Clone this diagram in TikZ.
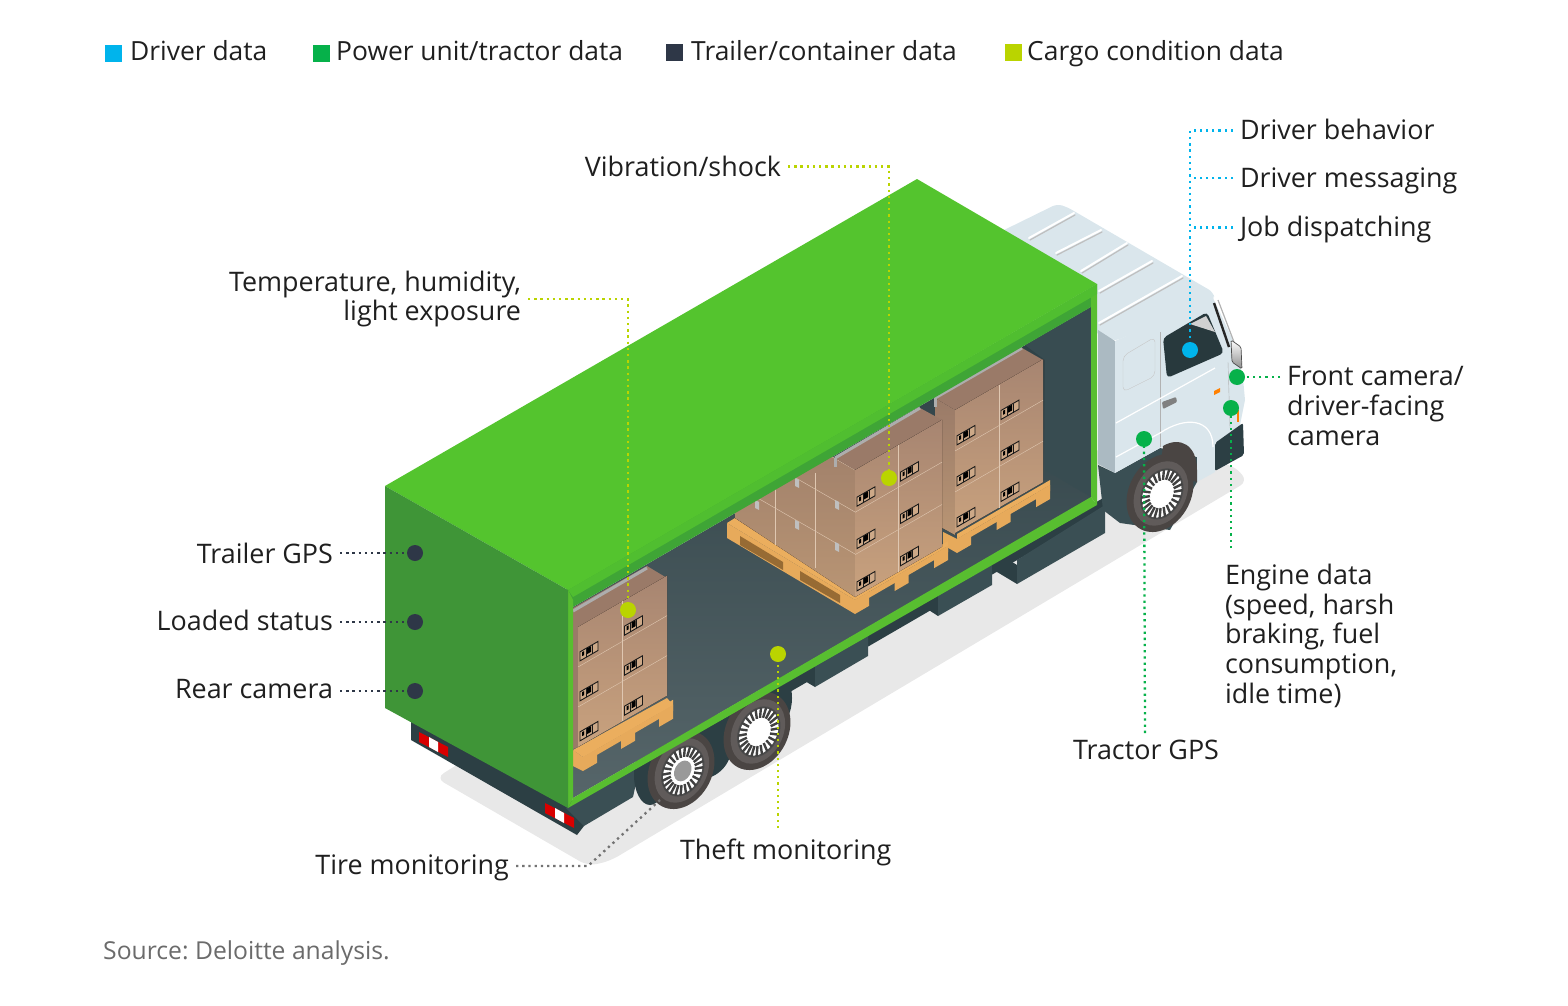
\documentclass[tikz,border=0pt]{standalone}
\usepackage{fontspec}
\setmainfont{Open Sans}
\usetikzlibrary{calc}

\definecolor{driverblue}{HTML}{00B4EC}
\definecolor{tractorgreen}{HTML}{06B14A}
\definecolor{trailernavy}{HTML}{2E3747}
\definecolor{cargolime}{HTML}{BAD400}
\definecolor{roofgreen}{HTML}{54C42E}
\definecolor{reargreen}{HTML}{3F9537}
\definecolor{bandgreen}{HTML}{3FA536}
\definecolor{railgreen}{HTML}{58BE30}
\definecolor{cabwhite}{HTML}{DAE6EC}
\definecolor{cabgrey}{HTML}{ABBAC2}
\definecolor{slate}{HTML}{2C3F44}
\definecolor{slatelight}{HTML}{3A4F54}
\definecolor{cartontop}{HTML}{A78571}
\definecolor{cartonbot}{HTML}{C9A27E}
\definecolor{palletlight}{HTML}{EBAE5E}
\definecolor{palletdark}{HTML}{C98F45}
\definecolor{tyregrey}{HTML}{4A4543}

% a printed handling mark on a carton
\newcommand{\cartonmark}[2]{
	\begin{scope}[shift={({#1},{#2})}]
		\draw[black!90,line width=.9pt,fill=cartonbot!92!white] (-9,9.7) -- (9,-.7) -- (9,-9.7) -- (-9,.7) -- cycle;
		\draw[black!90,line width=.8pt] (-3,6.2) -- (-3,-2.8) (3,2.8) -- (3,-6.2);
		\fill[black] (-2,3) -- (2,.7) -- (2,-5) -- (-2,-3) -- cycle;
		\fill[black] (-7,5) -- (-5,4) -- (-5,0) -- (-7,1) -- cycle;
	\end{scope}
}

% front of a cargo stack: corner x, corner y, width, height
\newcommand{\cartonfront}[4]{
	\fill[top color=cartontop,bottom color=cartonbot] (#1,#2) -- (#1,#2-#4) -- (#1+#3,#2-#4-.577*#3) -- (#1+#3,#2-.577*#3) -- cycle;
	\foreach \r in {1,2}
	\draw[cartonbot!60!white] (#1,#2-\r*#4/3) -- (#1+#3,#2-\r*#4/3-.577*#3);
	\draw[cartonbot!60!white] (#1+#3/2,#2-.288*#3) -- (#1+#3/2,#2-#4-.288*#3);
	\foreach \c in {0,1}{
		\foreach \r in {0,1,2}{
			\cartonmark{#1+11+\c*#3/2}{#2-.577*(11+\c*#3/2)-9.5-\r*#4/3}
		}
	}
}

% long side of a pallet: corner x, corner y, width
\newcommand{\palletfront}[3]{
	\fill[palletlight] (#1,#2-5) -- (#1+#3,#2-5-.58*#3) -- (#1+#3,#2-.58*#3) -- (#1,#2) -- cycle;
	\fill[palletlight!88!palletdark] (#1,#2) -- (#1+#3,#2-.58*#3) -- (#1+#3,#2+6-.58*#3) -- (#1,#2+6) -- cycle;
	\foreach \t in {0,.5,1}
	\fill[palletlight!88!palletdark] ({#1+\t*(#3-14)},{#2-.58*\t*(#3-14)}) -- ({#1+14+\t*(#3-14)},{#2-.58*(14+\t*(#3-14))}) -- ({#1+14+\t*(#3-14)},{#2+14-.58*(14+\t*(#3-14))}) -- ({#1+\t*(#3-14)},{#2+14-.58*\t*(#3-14)}) -- cycle;
}

% tyre with spoked rim: centre x, centre y, hub colour
\newcommand{\truckwheel}[3]{
	\begin{scope}[shift={(#1,#2)},rotate=-28]
		\fill[tyregrey] (0,0) ellipse [x radius=31pt,y radius=41pt];
		\fill[tyregrey!88!white] (1,0) ellipse [x radius=25pt,y radius=34pt];
		\fill[black!70] (2,0) ellipse [x radius=20pt,y radius=27pt];
		\fill[white] (2,0) ellipse [x radius=18pt,y radius=25pt];
		\foreach \a in {0,15,...,345}
		\draw[black!75,line width=2.4pt] ($(2,0)+(\a:11 and 15)$) -- ($(2,0)+(\a:19 and 26)$);
		\fill[#3] (2,0) ellipse [x radius=8pt,y radius=11pt];
	\end{scope}
}

\begin{document}
\begin{tikzpicture}[
		x=1pt,y=-1pt,
		every node/.style={font=\fontsize{26.9}{29.7}\selectfont\frenchspacing,text=black!88,inner sep=0pt},
		labeltext/.style={outer sep=7pt},
		evenline/.style={text height=21pt,text depth=3pt},
		keytext/.style={anchor=base west,font=\fontsize{26.4}{29.7}\selectfont},
		sensor/.style={circle,minimum size=16pt,inner sep=0pt,outer sep=0pt},
		leader/.style={line width=2.3pt,dash pattern=on 2.3pt off 3.9pt},
		swatch/.style={minimum size=17pt,inner sep=0pt},
	]

	\useasboundingbox (0,0) rectangle (1568,1006);

	% legend
	\node[swatch,fill=driverblue] (keyDriver) at (113.5,53.5) {};
	\node[swatch,fill=tractorgreen] (keyTractor) at (321,53.5) {};
	\node[swatch,fill=trailernavy] (keyTrailer) at (674,53) {};
	\node[swatch,fill=cargolime] (keyCargo) at (1013,52.5) {};
	\node[keytext] (txtDriver) at (130,61) {Driver data};
	\node[keytext] (txtTractor) at (336,61) {Power unit/tractor data};
	\node[keytext] (txtTrailer) at (691,60.5) {Trailer/container data};
	\node[keytext] (txtCargo) at (1027,60.5) {Cargo condition data};

	% ground shadow
	\fill[black!9,rounded corners=9pt] (436,778) -- (455,766) -- (1000,440) -- (1233,465) -- (1248,481) -- (610,861) -- (588,866) -- cycle;

	% chassis and boxes under the trailer
	\fill[slate] (640,767) -- (1105,497) -- (1105,509) -- (640,779) -- cycle;
	\fill[slate] (798,655) -- (815,665) -- (815,687) -- (798,677) -- cycle;
	\fill[slatelight] (815,665) -- (868,632) -- (868,656) -- (815,687) -- cycle;
	\fill[slate] (921,585) -- (938,595) -- (938,616) -- (921,605) -- cycle;
	\fill[slatelight] (938,595) -- (992,562) -- (992,585) -- (938,616) -- cycle;
	\fill[slate] (992,550) -- (1017,565) -- (1017,584) -- (992,569) -- cycle;
	\fill[slatelight] (1017,560) -- (1105,505) -- (1105,533) -- (1017,584) -- cycle;

	% rear bumper
	\fill[slate] (411,720) -- (411,740) -- (577,835) -- (584,826) -- (584,812) -- (560,790) -- cycle;
	\fill[slatelight] (584,826) -- (633,797) -- (640,765) -- (566,808) -- cycle;
	\foreach \x/\y in {419/732,545/803}{
		\fill[red!85!black] (\x,\y) -- (\x+29,\y+15) -- (\x+29,\y+25) -- (\x,\y+10) -- cycle;
		\fill[white] (\x+10,\y+5) -- (\x+19,\y+10) -- (\x+19,\y+20) -- (\x+10,\y+15) -- cycle;
	}

	% rear wheels
	\fill[slate] (776,698) ellipse [x radius=16pt,y radius=28pt];
	\fill[slate] (700,745) ellipse [x radius=32pt,y radius=34pt];
	\truckwheel{757}{731}{white}
	\fill[slate] (650,775) ellipse [x radius=16pt,y radius=30pt];
	\truckwheel{681}{770}{black!40}

	% cab roof and ribs
	\fill[cabwhite,rounded corners=5pt] (1000,232) -- (1057,204) -- (1067,207) -- (1213,292) -- (1215,300) -- (1115,341) -- (1090,330) -- cycle;
	\foreach \xa/\ya/\xb/\yb in {1030/240/1075/215,1057/255/1102/232,1082/273/1128/245,1100/293/1153/263,1100/325/1183/278}{
		\draw[black!25,line width=1.2pt,line cap=round] (\xa,\ya) -- (\xb,\yb);
		\draw[white,line width=2pt,line cap=round] (\xa-1,\ya-2) -- (\xb-1,\yb-2);
	}

	% under the cab
	\fill[slatelight] (1098,465) -- (1115,473) -- (1160,448) -- (1197,457) -- (1197,482) -- (1170,530) -- (1120,523) -- (1103,510) -- cycle;

	% cab body
	\fill[cabgrey] (1098,330) -- (1115,341) -- (1115,473) -- (1098,464) -- cycle;
	\fill[cabwhite] (1115,341) -- (1213,298) -- (1232,338) -- (1243,378) -- (1245,400) -- (1240,425) -- (1215,443) -- (1215,472) -- (1197,482) -- (1197,457) -- (1180,442) -- (1160,448) -- (1115,473) -- cycle;
	\fill[tyregrey] (1163,446) .. controls (1180,436) and (1197,445) .. (1197,470) -- (1197,482) -- (1160,470) -- cycle;
	\truckwheel{1160}{493}{white}

	% cab details
	\draw[black!30,line width=1pt] (1160,332) -- (1160,447);
	\draw[black!22,rounded corners=5pt] (1123,356) -- (1155,337) -- (1155,376) -- (1123,392) -- cycle;
	\draw[white,line width=1.2pt] (1116,423) -- (1215,368);
	\draw[white,line width=1.2pt] (1116,457) -- (1160,433) .. controls (1185,416) and (1213,418) .. (1213,447);
	\draw[black!30] (1228,362) -- (1230,428);
	\fill[slate!90!black,rounded corners=4pt] (1163,338) -- (1207,312) -- (1224,353) -- (1167,378) -- cycle;
	\fill[black!18] (1190,324) -- (1206,316) -- (1215,332) -- cycle;
	\draw[black!85,line width=2.4pt] (1214,303) -- (1229,347);
	\draw[black!30,line width=1.2pt] (1218,300) -- (1234,342);
	\shade[top color=white,bottom color=black!45,draw=black!70,line width=.7pt,rounded corners=1.5pt] (1231,340) -- (1241,347) -- (1242,369) -- (1232,362) -- cycle;
	\fill[black!50,rounded corners=1pt] (1162,402) -- (1176,397) -- (1177,402) -- (1163,409) -- cycle;
	\fill[orange] (1214,391) -- (1220,388) -- (1220,392) -- (1214,395) -- cycle;
	\draw[orange,line width=1.6pt] (1238,410) -- (1238,422);
	\fill[slate,rounded corners=2pt] (1215,443) -- (1243,423) -- (1244,455) -- (1215,471) -- cycle;

	% trailer interior
	\shade[top color=slate,bottom color=slate!80!white] (573,607) -- (1091,307) -- (1091,498) -- (573,798) -- cycle;
	\fill[slatelight!96!black] (1025,345) -- (1091,307) -- (1091,497) -- (1045,470) -- (1045,360) -- cycle;

	% back stack
	\fill[palletlight!88!palletdark] (943,532) -- (957,539) -- (957,553) -- (943,545) -- cycle;
	\palletfront{957}{539}{93}
	\fill[top color=cartontop!92!black,bottom color=cartonbot!92!black] (935,398) -- (955,410) -- (955,535) -- (935,524) -- cycle;
	\fill[cartontop!92!black] (935,398) -- (1022,348) -- (1043,360) -- (955,410) -- cycle;
	\draw[black!32,line width=3pt] (935,398) -- (1022,348);
	\draw[black!32,line width=3pt] (935,398) -- (935,407);
	\cartonfront{955}{533}{88}{123}

	% middle stack
	\fill[palletlight] (727,523) -- (735,518) -- (855,595) -- (855,600) -- cycle;
	\fill[palletlight!88!palletdark] (727,523) -- (855,600) -- (855,614) -- (727,538) -- cycle;
	\fill[palletdark!75!black] (740,536) -- (783,562) -- (783,570) -- (740,545) -- cycle;
	\fill[palletdark!75!black] (800,571) -- (840,595) -- (840,603) -- (800,580) -- cycle;
	\palletfront{855}{600}{93}
	\fill[top color=cartontop!92!black,bottom color=cartonbot!92!black] (855,470) -- (835,458) -- (735,400) -- (735,518) -- (855,597) -- cycle;
	\foreach \x/\y in {775/450,815/473}
	\draw[cartonbot!60!white] (\x,\y) -- (\x,\y+95);
	\foreach \r in {0,1,2}
	\draw[cartonbot!60!white] (855,470+\r*42) -- (735,401+\r*42);
	\foreach \x/\y in {835/500,835/542,795/478,795/520,755/500}
	\fill[black!25] (\x,\y) -- (\x+4,\y+2) -- (\x+4,\y+10) -- (\x,\y+8) -- cycle;
	\fill[cartontop!92!black] (835,458) -- (920,408) -- (942,420) -- (855,470) -- cycle;
	\draw[black!32,line width=3pt] (835,458) -- (920,408);
	\draw[black!32,line width=3pt] (835,458) -- (835,467);
	\cartonfront{855}{597}{87}{127}

	% front stack
	\fill[palletlight!88!palletdark] (573,750) -- (583,757) -- (583,771) -- (573,766) -- cycle;
	\palletfront{583}{757}{90}
	\fill[palletlight] (573,750) -- (667,698) -- (673,705) -- (583,757) -- cycle;
	\fill[cartontop!92!black] (573,608) -- (578,612) -- (578,747) -- (573,749) -- cycle;
	\fill[cartontop!92!black] (573,608) -- (647,566) -- (667,578) -- (573,630) -- cycle;
	\draw[black!32,line width=3pt] (573,611) -- (647,568);
	\cartonfront{578}{747}{89}{120}

	% trailer side frame
	\fill[bandgreen] (566,590) -- (1097,284) -- (1091,307) -- (573,607) -- cycle;
	\fill[railgreen] (1091,290) -- (1097,284) -- (1097,505) -- (1091,497) -- cycle;
	\fill[railgreen] (568,590) -- (573,600) -- (573,798) -- (568,808) -- cycle;
	\fill[railgreen] (573,798) -- (1091,497) -- (1097,505) -- (568,808) -- cycle;
	\fill[roofgreen!80!bandgreen] (568,590) -- (1097,284) -- (1097,294) -- (573,597) -- cycle;

	% trailer roof and rear door
	\fill[roofgreen] (385,486) -- (917,179) -- (1097,284) -- (568,590) -- cycle;
	\fill[reargreen] (385,486) -- (568,590) -- (568,808) -- (385,708) -- cycle;

	% sensor dots
	\node[sensor,fill=cargolime] (dotVibration) at (889,478) {};
	\node[sensor,fill=cargolime] (dotClimate) at (628,610) {};
	\node[sensor,fill=cargolime] (dotTheft) at (778,654) {};
	\node[sensor,fill=driverblue] (dotDriver) at (1190,350) {};
	\node[sensor,fill=tractorgreen] (dotCamera) at (1237,377) {};
	\node[sensor,fill=tractorgreen] (dotEngine) at (1231,408) {};
	\node[sensor,fill=tractorgreen] (dotTractor) at (1144,439) {};
	\node[sensor,fill=trailernavy] (dotTrailer) at (415,553) {};
	\node[sensor,fill=trailernavy] (dotLoaded) at (415,622) {};
	\node[sensor,fill=trailernavy] (dotRear) at (415,691) {};

	% labels
	\node[labeltext,anchor=east] (lblVibration) at (788,166.5) {Vibration/shock};
	\node[labeltext,anchor=east,align=right] (lblClimate) at (528,299) {Temperature, humidity,\\light exposure};
	\node[labeltext,evenline,anchor=west] (lblBehavior) at (1233,130.5) {Driver behavior};
	\node[labeltext,evenline,anchor=west] (lblMessaging) at (1233,178) {Driver messaging};
	\node[labeltext,evenline,anchor=west] (lblDispatching) at (1233,227.5) {Job dispatching};
	\node[labeltext,anchor=west,align=left] (lblCamera) at (1280,406) {Front camera/\\driver-facing\\camera};
	\node[labeltext,anchor=north west,align=left] (lblEngine) at (1218,557) {Engine data\\(speed, harsh\\braking, fuel\\consumption,\\idle time)};
	\node[labeltext,anchor=west] (lblTractor) at (1066,750) {Tractor GPS};
	\node[labeltext,anchor=east] (lblTrailer) at (340,553) {Trailer GPS};
	\node[labeltext,anchor=east] (lblLoaded) at (340,620.5) {Loaded status};
	\node[labeltext,anchor=east] (lblRear) at (340,689.5) {Rear camera};
	\node[labeltext,anchor=east] (lblTire) at (516,867.5) {Tire monitoring};
	\node[labeltext,anchor=west] (lblTheft) at (673,852) {Theft monitoring};
	\node[anchor=west,text=black!58,font=\fontsize{24.7}{28}\selectfont\frenchspacing] (lblSource) at (103,953) {Source: Deloitte analysis.};

	% free ends of the leaders
	\coordinate (endCamera) at (1280,377);
	\coordinate (endEngine) at (1231,548);
	\coordinate (endTractor) at (1145,733);
	\coordinate (endTheft) at (778,828);
	\coordinate (bendTire) at (588,866);
	\coordinate (wheelTire) at (660,800);

	% leaders
	\draw[leader,cargolime] (lblVibration.east) -| (dotVibration);
	\draw[leader,cargolime] (lblClimate.east) -| (dotClimate);
	\draw[leader,cargolime] (endTheft) -- (dotTheft);
	\draw[leader,driverblue] (lblBehavior.west) -| (dotDriver);
	\draw[leader,driverblue] (lblMessaging.west) -- (lblMessaging.west -| dotDriver);
	\draw[leader,driverblue] (lblDispatching.west) -- (lblDispatching.west -| dotDriver);
	\draw[leader,tractorgreen] (endCamera) -- (dotCamera);
	\draw[leader,tractorgreen] (endEngine) -- (dotEngine);
	\draw[leader,tractorgreen] (endTractor) -- (dotTractor);
	\draw[leader,trailernavy] (lblTrailer.east) -- (dotTrailer);
	\draw[leader,trailernavy] (lblLoaded.east |- dotLoaded) -- (dotLoaded);
	\draw[leader,trailernavy] (lblRear.east |- dotRear) -- (dotRear);
	\draw[leader,black!55] (lblTire.east |- bendTire) -- (bendTire) -- (wheelTire);

\end{tikzpicture}
\end{document}
